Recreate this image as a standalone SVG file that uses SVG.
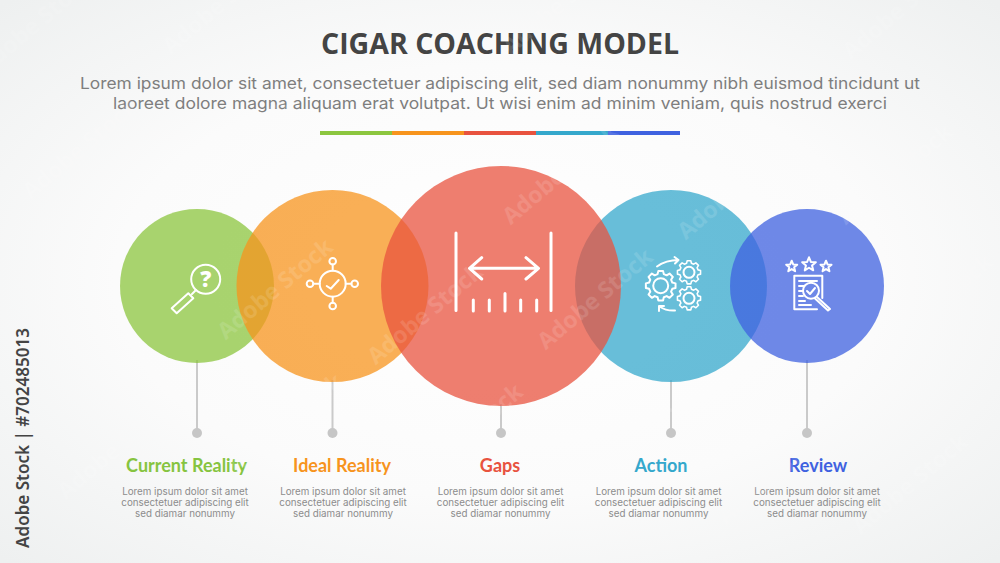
<svg xmlns="http://www.w3.org/2000/svg" xmlns:xlink="http://www.w3.org/1999/xlink" width="1000" height="563" viewBox="0 0 1000 563">
<style>
.title{font:700 28.5px "Open Sans","Liberation Sans",sans-serif;fill:#444;text-anchor:middle}
.desc{font:400 16.4px Inter,"Open Sans",sans-serif;fill:#7e7e7e;text-anchor:middle}
.lab{font:700 18px Lato,"Liberation Sans",sans-serif;text-anchor:middle}
.small{font:400 9.800px Inter,"Open Sans",sans-serif;fill:#8c8c8c;text-anchor:middle}
.ic{fill:none;stroke:#fff;stroke-width:2;stroke-linecap:round;stroke-linejoin:round}
.wm{font:700 23px "Open Sans","Liberation Sans",sans-serif;fill:#fff;opacity:.12}
.conn line{stroke:#cacaca;stroke-width:2}
.conn circle{fill:#c6c6c6}
.c{opacity:.75}
</style>
<defs>
<radialGradient id="bg" cx="50%" cy="50%" r="70%"><stop offset="0" stop-color="#fff"/><stop offset=".55" stop-color="#fbfbfb"/><stop offset="1" stop-color="#eef0f0"/></radialGradient>
<polygon id="gear" points="11.59,-3.11 14.82,-2.35 14.82,2.35 11.59,3.11 10.39,6 12.14,8.82 8.82,12.14 6,10.39 3.11,11.59 2.35,14.82 -2.35,14.82 -3.11,11.59 -6,10.39 -8.82,12.14 -12.14,8.82 -10.39,6 -11.59,3.11 -14.82,2.35 -14.82,-2.35 -11.59,-3.11 -10.39,-6 -12.14,-8.82 -8.82,-12.14 -6,-10.39 -3.11,-11.59 -2.35,-14.82 2.35,-14.82 3.11,-11.59 6,-10.39 8.82,-12.14 12.14,-8.82 10.39,-6"/>
<polygon id="star" vector-effect="non-scaling-stroke" points="0,-1 .26,-.36 .95,-.31 .42,.14 .59,.81 0,.45 -.59,.81 -.42,.14 -.95,-.31 -.26,-.36"/>
<text id="w" class="wm" text-anchor="middle">Adobe Stock</text>
</defs>
<rect width="1000" height="563" fill="url(#bg)"/>
<text class="title" x="500" y="54" textLength="358" lengthAdjust="spacingAndGlyphs">CIGAR COACHING MODEL</text>
<text class="desc" x="500" y="89" textLength="840" lengthAdjust="spacingAndGlyphs">Lorem ipsum dolor sit amet, consectetuer adipiscing elit, sed diam nonummy nibh euismod tincidunt ut</text>
<text class="desc" x="500" y="109" textLength="774" lengthAdjust="spacingAndGlyphs">laoreet dolore magna aliquam erat volutpat. Ut wisi enim ad minim veniam, quis nostrud exerci</text>
<g id="title-bar">
<rect x="320" y="131" width="72" height="4" fill="#8cc63f"/><rect x="392" y="131" width="72" height="4" fill="#f7941d"/><rect x="464" y="131" width="72" height="4" fill="#e8533f"/><rect x="536" y="131" width="72" height="4" fill="#35a8cc"/><rect x="608" y="131" width="72" height="4" fill="#3f62e0"/>
</g>
<g id="connectors" class="conn">
<line x1="197" y1="360" x2="197" y2="433"/><circle cx="197" cy="433" r="5"/>
<line x1="332.500" y1="380" x2="332.500" y2="433"/><circle cx="332.500" cy="433" r="5"/>
<line x1="501" y1="404" x2="501" y2="433"/><circle cx="501" cy="433" r="5"/>
<line x1="671" y1="380" x2="671" y2="433"/><circle cx="671" cy="433" r="5"/>
<line x1="807" y1="360" x2="807" y2="433"/><circle cx="807" cy="433" r="5"/>
</g>
<g id="node-current-reality">
<circle class="c" cx="197" cy="286" r="77" fill="#8cc63f"/>
</g>
<g id="node-ideal-reality">
<circle class="c" cx="332.500" cy="286" r="96" fill="#f7941d"/>
</g>
<g id="node-action">
<circle class="c" cx="671" cy="286" r="96" fill="#35a8cc"/>
</g>
<g id="node-review">
<circle class="c" cx="807" cy="286" r="77" fill="#3f62e0"/>
</g>
<g id="node-gaps">
<circle class="c" cx="501" cy="286" r="120" fill="#e8533f"/>
</g>
<g id="icon-current" class="ic">
<circle cx="205.700" cy="279.300" r="14.500"/>
<path d="M196 290l-4 4M188.300 293.300l5 5-16.600 15-5-5z"/>
<text x="205.700" y="287" text-anchor="middle" style="font:800 22px 'Open Sans',sans-serif;fill:#fff;stroke:none">?</text>
</g>
<g id="icon-ideal" class="ic">
<circle cx="332.700" cy="283.700" r="13"/>
<circle cx="332.700" cy="261.300" r="3.300"/><circle cx="332.700" cy="306" r="3.300"/><circle cx="310" cy="283.700" r="3.300"/><circle cx="354.700" cy="283.700" r="3.300"/>
<path d="M332.700 264.600v6M332.700 296.700v6M313.300 283.700h6.400M345.700 283.700h5.700M326.700 286l4 2.700 8-8.700"/>
</g>
<g id="icon-gaps" class="ic" style="stroke-width:3">
<path d="M456 233v77.500M551 233v77.500M469.500 268.300h69M481.700 257.700l-12.200 10.600 12.200 10.700M526 257.700l12.500 10.600-12.500 10.700M473.300 300v11M489.300 300v11M505 293.500v17.500M520.700 300v11M536.700 300v11"/>
</g>
<g id="icon-action" class="ic">
<use href="#gear" transform="translate(660.700 285.700)"/>
<circle cx="660.700" cy="285.700" r="7.500"/>
<use href="#gear" transform="translate(689 272.300) scale(.78)"/>
<circle cx="689" cy="272.300" r="5.500"/>
<use href="#gear" transform="translate(689 298.300) scale(.78)"/>
<circle cx="689" cy="298.300" r="5.500"/>
<path d="M657 266.500Q666 260 678.500 260M674.500 257l4 3-3.500 3.500M675 310.500Q666 311 659.500 306.500M659 311v-5h5"/>
</g>
<g id="icon-review" class="ic">
<use href="#star" transform="translate(791.700 266.500) scale(5.800)"/>
<use href="#star" transform="translate(809 264.500) scale(7.200)"/>
<use href="#star" transform="translate(826 266.500) scale(5.800)"/>
<path d="M822.300 298V275.700H794.300V309.300H817M799 281h18M799 286h5M799 291h4M799 296h4M799 301h6M799 305h12M817 297l13 12-2 1.500-13-12"/>
<circle cx="811" cy="290.700" r="8"/>
<path d="M807 291l3 3 5-6"/>
</g>
<g id="labels">
<text class="lab" x="186.500" y="472" fill="#86c440">Current Reality</text>
<text class="lab" x="342" y="472" fill="#f7941d">Ideal Reality</text>
<text class="lab" x="500" y="472" fill="#e8533f">Gaps</text>
<text class="lab" x="661" y="472" fill="#35a8cc">Action</text>
<text class="lab" x="818" y="472" fill="#3f62e0">Review</text>
</g>
<g id="captions">
<text class="small" x="185" y="495">Lorem ipsum dolor sit amet</text><text class="small" x="185" y="506">consectetuer adipiscing elit</text><text class="small" x="185" y="517">sed diamar nonummy</text>
<text class="small" x="343" y="495">Lorem ipsum dolor sit amet</text><text class="small" x="343" y="506">consectetuer adipiscing elit</text><text class="small" x="343" y="517">sed diamar nonummy</text>
<text class="small" x="500.500" y="495">Lorem ipsum dolor sit amet</text><text class="small" x="500.500" y="506">consectetuer adipiscing elit</text><text class="small" x="500.500" y="517">sed diamar nonummy</text>
<text class="small" x="658.500" y="495">Lorem ipsum dolor sit amet</text><text class="small" x="658.500" y="506">consectetuer adipiscing elit</text><text class="small" x="658.500" y="517">sed diamar nonummy</text>
<text class="small" x="817" y="495">Lorem ipsum dolor sit amet</text><text class="small" x="817" y="506">consectetuer adipiscing elit</text><text class="small" x="817" y="517">sed diamar nonummy</text>
</g>
<g id="watermarks">
<use href="#w" transform="translate(40 30) rotate(-40)"/><use href="#w" transform="translate(225 10) rotate(-40)"/><use href="#w" transform="translate(565 10) rotate(-40)"/><use href="#w" transform="translate(905 15) rotate(-40)"/>
<use href="#w" transform="translate(85 155) rotate(-40)"/><use href="#w" transform="translate(250 140) rotate(-40)"/><use href="#w" transform="translate(565 180) rotate(-40)"/><use href="#w" transform="translate(740 195) rotate(-40)"/><use href="#w" transform="translate(900 180) rotate(-40)"/>
<use href="#w" transform="translate(280 295) rotate(-40)"/><use href="#w" transform="translate(600 305) rotate(-40)"/><use href="#w" transform="translate(430 320) rotate(-40)"/><use href="#w" transform="translate(940 310) rotate(-40)"/>
<use href="#w" transform="translate(120 455) rotate(-40)"/><use href="#w" transform="translate(290 430) rotate(-40)"/><use href="#w" transform="translate(470 440) rotate(-40)"/><use href="#w" transform="translate(620 455) rotate(-40)"/><use href="#w" transform="translate(780 480) rotate(-40)"/><use href="#w" transform="translate(915 490) rotate(-40)"/>
</g>
<text transform="translate(29 438) rotate(-90)" text-anchor="middle" textLength="220" lengthAdjust="spacingAndGlyphs" style="font:600 17px 'Noto Sans','Open Sans',sans-serif;fill:#444">Adobe Stock | #702485013</text>
</svg>
